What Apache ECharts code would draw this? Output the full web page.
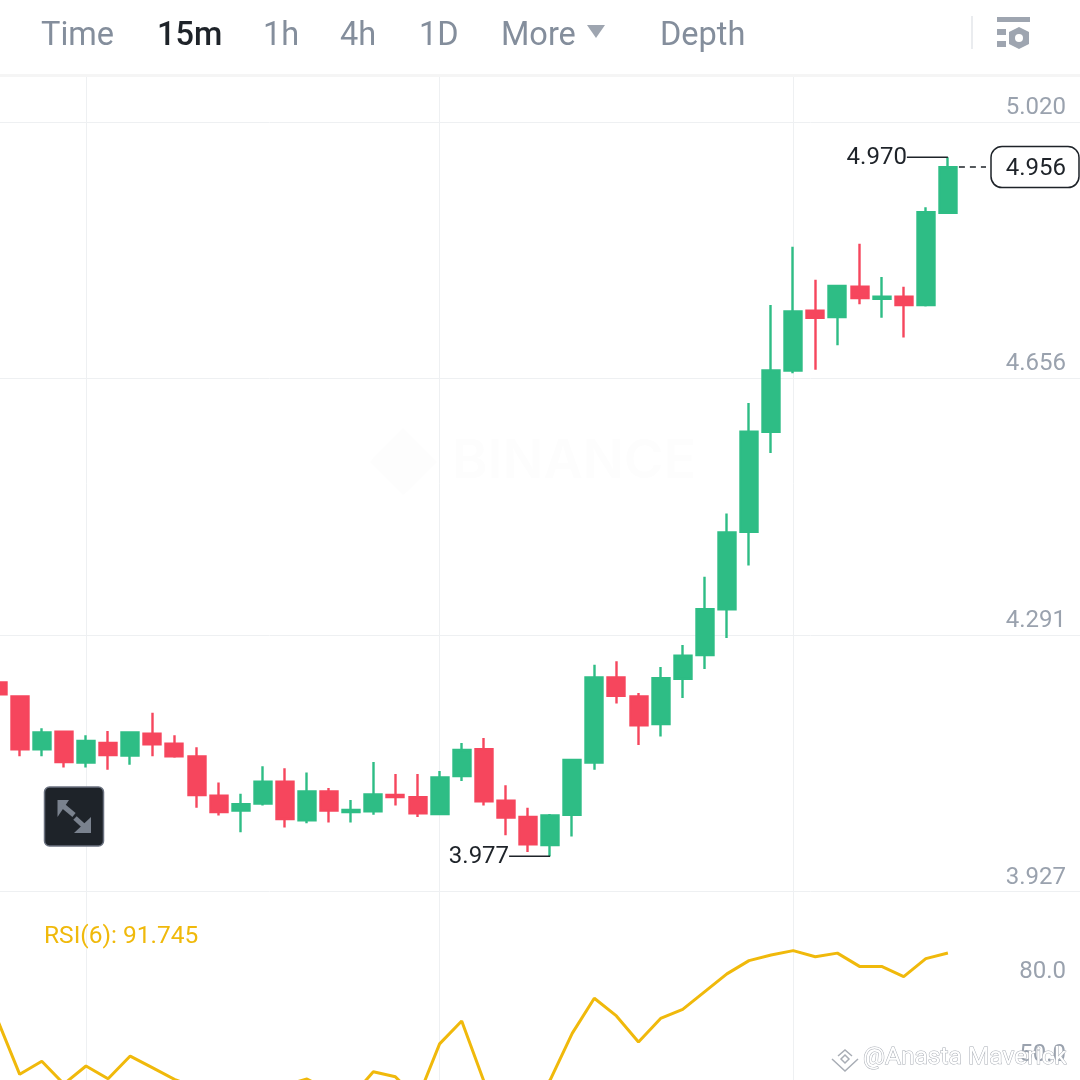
<!DOCTYPE html>
<html>
<head>
<meta charset="utf-8">
<title>RSI candles</title>
<script src="https://cdn.jsdelivr.net/npm/echarts@6/dist/echarts.min.js"></script>
<style>
html, body { margin: 0; padding: 0; background: #fff; }
#chart { width: 1080px; height: 1080px; }
</style>
</head>
<body>
<div id="chart"></div>
<script>
// 15m candles, left to right
var opens = [4.224, 4.204, 4.129, 4.154, 4.110, 4.138, 4.120, 4.151, 4.137, 4.119, 4.063, 4.042, 4.052, 4.083, 4.028, 4.069, 4.040, 4.041, 4.064, 4.061, 4.037, 4.091, 4.129, 4.056, 4.033, 3.993, 4.036, 4.110, 4.231, 4.204, 4.165, 4.229, 4.263, 4.328, 4.438, 4.580, 4.667, 4.752, 4.743, 4.786, 4.769, 4.772, 4.760, 4.891];
var closes = [4.207, 4.129, 4.153, 4.111, 4.141, 4.121, 4.153, 4.136, 4.119, 4.064, 4.040, 4.051, 4.083, 4.030, 4.069, 4.042, 4.043, 4.065, 4.061, 4.038, 4.089, 4.128, 4.055, 4.032, 3.994, 4.035, 4.114, 4.231, 4.205, 4.163, 4.230, 4.262, 4.328, 4.437, 4.580, 4.667, 4.751, 4.742, 4.787, 4.770, 4.772, 4.760, 4.892, 4.956];
var lows = [4.207, 4.119, 4.119, 4.103, 4.103, 4.100, 4.107, 4.119, 4.117, 4.046, 4.035, 4.011, 4.049, 4.018, 4.024, 4.025, 4.025, 4.036, 4.049, 4.033, 4.037, 4.084, 4.049, 4.007, 3.983, 3.977, 4.005, 4.100, 4.194, 4.135, 4.147, 4.202, 4.243, 4.287, 4.390, 4.550, 4.663, 4.668, 4.703, 4.761, 4.742, 4.714, 4.758, 4.890];
var highs = [4.224, 4.205, 4.159, 4.155, 4.149, 4.155, 4.154, 4.181, 4.149, 4.132, 4.082, 4.066, 4.105, 4.102, 4.096, 4.074, 4.057, 4.111, 4.094, 4.094, 4.098, 4.138, 4.145, 4.078, 4.046, 4.037, 4.115, 4.249, 4.254, 4.209, 4.246, 4.277, 4.374, 4.464, 4.621, 4.760, 4.843, 4.796, 4.788, 4.847, 4.800, 4.786, 4.899, 4.970];
var rsi6 = [67.5, 47.9, 52.6, 44.4, 50.9, 46.3, 54.5, 50.3, 46.1, 43.0, 40.0, 38.0, 41.0, 44.0, 46.2, 42.0, 39.7, 48.8, 47.0, 39.0, 58.9, 67.2, 45.5, 40.0, 38.0, 45.8, 62.7, 75.4, 69.0, 59.6, 68.1, 71.4, 77.8, 84.2, 89.0, 91.0, 92.6, 90.4, 91.7, 86.9, 86.9, 83.2, 89.7, 91.745];

var priceTicks = [3.927, 4.291, 4.656, 5.020];
var rsiTicks = [50, 80];
var gridSlots = [4, 20, 36];      // candles that sit on a vertical grid line
var emptySlots = 6;               // room to the right of the last candle

var lastPrice = 4.956;
var highMark = {index: 43, value: 4.970};
var lowMark = {index: 25, value: 3.977};

var GREEN = '#2EBD85', RED = '#F6465D', DARK = '#1E2329', GRAY = '#848E9C', LINE = '#EEF0F2', YELLOW = '#F0B90B';
var FONT = 'Roboto';

var categories = [];
for (var i = 0; i < opens.length + emptySlots; i++) {
    categories.push(String(i));
}
var candles = opens.map(function (o, i) {
    return [o, closes[i], lows[i], highs[i]];
});

var chart = echarts.init(document.getElementById('chart'));

function xAxisFor(gridIndex) {
    return {
        type: 'category',
        gridIndex: gridIndex,
        data: categories,
        boundaryGap: true,
        axisLine: {show: false},
        axisTick: {show: false},
        axisLabel: {show: false},
        splitLine: {
            show: true,
            alignWithLabel: true,
            interval: function (index) {
                return gridSlots.indexOf(index) >= 0;
            },
            lineStyle: {color: LINE, width: 1}
        }
    };
}

function yAxisFor(gridIndex, min, max, ticks, digits, showLines) {
    return {
        type: 'value',
        gridIndex: gridIndex,
        position: 'right',
        min: min,
        max: max,
        scale: true,
        axisLine: {show: false},
        axisTick: {show: false, customValues: ticks},
        axisLabel: {
            inside: true,
            margin: 25.5,
            customValues: ticks,
            hideOverlap: false,
            verticalAlign: 'bottom',
            padding: [0, 0, 2, 0],
            color: '#9AA2AE',
            fontFamily: FONT,
            fontSize: 24,
            formatter: function (v) {
                return v.toFixed(digits);
            }
        },
        splitLine: {show: showLines, lineStyle: {color: LINE, width: 1}}
    };
}

chart.setOption({
    animation: false,
    backgroundColor: '#fff',
    grid: [
        {left: -13.45, width: 1105, top: 76, height: 815.5, outerBoundsMode: 'none'},
        {left: -13.45, width: 1105, top: 891.5, height: 188.5, outerBoundsMode: 'none'}
    ],
    xAxis: [xAxisFor(0), xAxisFor(1)],
    yAxis: [
        yAxisFor(0, 3.927, 5.0854, priceTicks, 3, true),
        yAxisFor(1, 45.85, 113.97, rsiTicks, 1, false)
    ],
    series: [
        {
            type: 'candlestick',
            name: 'Price',
            xAxisIndex: 0,
            yAxisIndex: 0,
            barWidth: 17.5,
            itemStyle: {
                color: GREEN,
                color0: RED,
                borderColor: GREEN,
                borderColor0: RED,
                borderWidth: 2.4
            },
            data: candles
        },
        {
            type: 'line',
            name: 'RSI(6)',
            xAxisIndex: 1,
            yAxisIndex: 1,
            symbol: 'none',
            clip: true,
            lineStyle: {color: YELLOW, width: 3},
            data: rsi6
        }
    ]
});

// extreme price markers and the last price tag are placed through the axis scales
function markerElements(mark, textY) {
    var p = chart.convertToPixel({gridIndex: 0}, [mark.index, mark.value]);
    return [
        {
            type: 'line',
            z: 20,
            shape: {x1: p[0] - 41, y1: p[1], x2: p[0], y2: p[1]},
            style: {stroke: DARK, lineWidth: 1.5}
        },
        {
            type: 'text',
            z: 20,
            style: {
                text: mark.value.toFixed(3),
                x: p[0] - 41,
                y: p[1] + textY,
                align: 'right',
                verticalAlign: 'middle',
                fill: DARK,
                fontFamily: FONT,
                fontSize: 24
            }
        }
    ];
}

function priceTagElements() {
    var p = chart.convertToPixel({gridIndex: 0}, [opens.length - 1, lastPrice]);
    return [
        {
            type: 'line',
            z: 20,
            shape: {x1: p[0] + 11, y1: p[1], x2: 986, y2: p[1]},
            style: {stroke: DARK, lineWidth: 1.5, lineDash: [6, 5]}
        },
        {
            type: 'rect',
            z: 20,
            shape: {x: 991, y: p[1] - 20.5, width: 88, height: 41, r: 11},
            style: {fill: '#fff', stroke: DARK, lineWidth: 1.5}
        },
        {
            type: 'text',
            z: 21,
            style: {
                text: lastPrice.toFixed(3),
                x: 1066,
                y: p[1] + 2,
                align: 'right',
                verticalAlign: 'middle',
                fill: DARK,
                fontFamily: FONT,
                fontSize: 24
            }
        }
    ];
}

function toolbarText(text, x, color, weight) {
    return {
        type: 'text',
        z: 30,
        style: {
            text: text,
            x: x,
            y: 37,
            verticalAlign: 'middle',
            fill: color,
            fontFamily: FONT,
            fontSize: 32.5,
            fontWeight: weight || 'normal'
        }
    };
}

function toolbarElements() {
    var icon = '#9EA5B0';
    return [
        {type: 'rect', z: 25, shape: {x: 0, y: 0, width: 1080, height: 75}, style: {fill: '#fff'}},
        {type: 'rect', z: 25, shape: {x: 0, y: 74, width: 1080, height: 3}, style: {fill: '#F5F5F5'}},
        toolbarText('Time', 41, GRAY),
        toolbarText('15m', 157, DARK, 500),
        toolbarText('1h', 263, GRAY),
        toolbarText('4h', 340, GRAY),
        toolbarText('1D', 419, GRAY),
        toolbarText('More', 501, GRAY),
        toolbarText('Depth', 660, GRAY),
        {type: 'polygon', z: 30, shape: {points: [[587, 25], [605, 25], [596, 38]]}, style: {fill: icon}},
        {type: 'rect', z: 30, shape: {x: 971, y: 16, width: 2, height: 33}, style: {fill: '#EAECEF'}},
        {type: 'rect', z: 30, shape: {x: 997, y: 17, width: 33, height: 5}, style: {fill: icon}},
        {type: 'rect', z: 30, shape: {x: 997, y: 29, width: 9, height: 6}, style: {fill: icon}},
        {type: 'rect', z: 30, shape: {x: 997, y: 41, width: 9, height: 6}, style: {fill: icon}},
        {
            type: 'polygon',
            z: 30,
            shape: {points: [[1019, 27], [1029, 32], [1029, 44], [1019, 49], [1009, 44], [1009, 32]]},
            style: {fill: icon}
        },
        {type: 'circle', z: 31, shape: {cx: 1019, cy: 38, r: 4}, style: {fill: '#fff'}}
    ];
}

function expandButton() {
    var arrow = '#7A828E';
    return [
        {
            type: 'rect',
            z: 22,
            shape: {x: 44.5, y: 787, width: 59, height: 59, r: 5},
            style: {fill: DARK, stroke: '#6B7280', lineWidth: 1.5}
        },
        {type: 'polygon', z: 23, shape: {points: [[57.5, 800], [69, 800], [57.5, 817]]}, style: {fill: arrow}},
        {type: 'line', z: 23, shape: {x1: 62, y1: 805, x2: 74, y2: 815}, style: {stroke: arrow, lineWidth: 5}},
        {type: 'polygon', z: 23, shape: {points: [[91, 833], [74, 833], [91, 817]]}, style: {fill: arrow}},
        {type: 'line', z: 23, shape: {x1: 75, y1: 818, x2: 86, y2: 828}, style: {stroke: arrow, lineWidth: 5}}
    ];
}

function backgroundMark() {
    var faint = '#FDFDFD';
    return [
        {
            type: 'text',
            z: 0,
            style: {
                text: 'BINANCE',
                x: 452,
                y: 462,
                verticalAlign: 'middle',
                fill: faint,
                fontFamily: 'Inter',
                fontWeight: 600,
                fontSize: 54
            }
        },
        {type: 'polygon', z: 0, shape: {points: [[403, 428], [437, 462], [403, 495], [370, 462]]}, style: {fill: faint}}
    ];
}

function watermarkElements() {
    var edge = '#A8ADB5';
    return [
        {
            type: 'text',
            z: 40,
            style: {
                text: '@Anasta Maverick',
                x: 863,
                y: 1058,
                verticalAlign: 'middle',
                fill: '#fff',
                stroke: edge,
                lineWidth: 1,
                fontFamily: FONT,
                fontSize: 24.5
            }
        },
        {type: 'polyline', z: 40, shape: {points: [[838, 1056], [845, 1050], [852, 1056]]}, style: {stroke: edge, fill: 'none', lineWidth: 1.5}},
        {type: 'polyline', z: 40, shape: {points: [[832, 1059], [845, 1071], [858, 1059]]}, style: {stroke: edge, fill: 'none', lineWidth: 1.5}},
        {type: 'polygon', z: 40, shape: {points: [[845, 1055], [849, 1059], [845, 1063], [841, 1059]]}, style: {stroke: edge, fill: 'none', lineWidth: 1.5}}
    ];
}

var rsiLabel = {
    type: 'text',
    z: 20,
    style: {
        text: 'RSI(6): ' + rsi6[rsi6.length - 1],
        x: 44,
        y: 937,
        verticalAlign: 'middle',
        fill: YELLOW,
        fontFamily: FONT,
        fontSize: 24.5
    }
};

chart.setOption({
    graphic: {
        elements: [].concat(
            backgroundMark(),
            toolbarElements(),
            markerElements(highMark, 1),
            markerElements(lowMark, 1),
            priceTagElements(),
            expandButton(),
            [rsiLabel],
            watermarkElements()
        )
    }
});
</script>
</body>
</html>
